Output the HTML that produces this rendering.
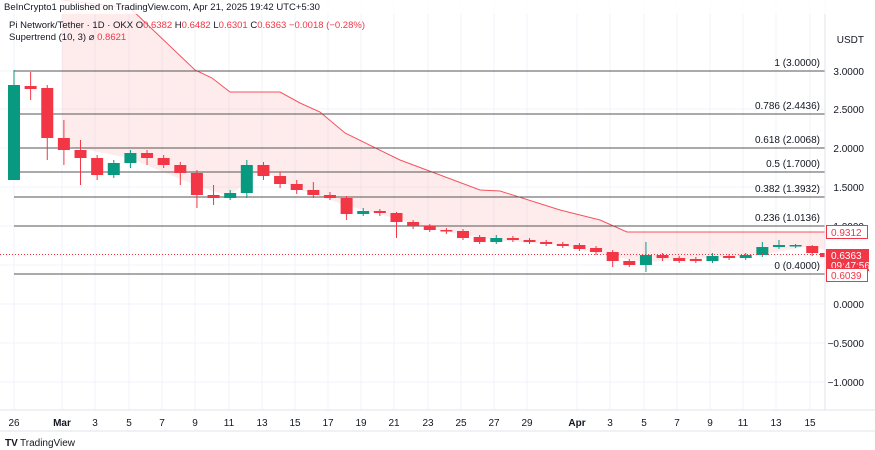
<!DOCTYPE html><html><head><meta charset="utf-8"><style>
body{margin:0;background:#fff;width:875px;height:450px;overflow:hidden;font-family:"Liberation Sans",sans-serif}
svg{display:block}
</style></head><body>
<svg id="s" width="875" height="450" xmlns="http://www.w3.org/2000/svg" font-family="Liberation Sans, sans-serif"></svg>
<script>
const s=document.getElementById('s');let h='';
const G='#089981',R='#f23645';
const dates=[[14,'26'],[62,'Mar'],[95,'3'],[129,'5'],[162,'7'],[195,'9'],[229,'11'],[262,'13'],[295,'15'],[328,'17'],[361,'19'],[394,'21'],[428,'23'],[461,'25'],[494,'27'],[527,'29'],[577,'Apr'],[610,'3'],[644,'5'],[677,'7'],[710,'9'],[743,'11'],[776,'13'],[810,'15']];
dates.forEach(d=>{h+=`<line x1="${d[0]}" y1="0" x2="${d[0]}" y2="410" stroke="#f0f3fa"/>`});
[71,109,148,187,226,265,304,343,382].forEach(y=>{h+=`<line x1="0" y1="${y}" x2="825" y2="${y}" stroke="#f0f3fa"/>`});
const st=[[62,0],[130,8],[195,70],[212,78],[230,92],[280,92],[300,103],[320,112],[345,133],[400,160],[440,175],[480,190],[500,191],[560,210],[600,220],[627,232],[825,232]];
const lo=[[825,250],[810,246],[760,255],[644,262],[610,256],[560,245],[494,240],[428,228],[394,218],[345,205],[295,188],[262,170],[229,196],[195,185],[129,158],[62,145]];
h+=`<polygon points="${st.map(p=>p.join(',')).join(' ')} ${lo.map(p=>p.join(',')).join(' ')}" fill="rgba(242,54,69,0.1)"/>`;
h+=`<polyline points="${st.map(p=>p.join(',')).join(' ')}" fill="none" stroke="#f7525f" stroke-width="1"/>`;
const fib=[[71,'1 (3.0000)'],[114,'0.786 (2.4436)'],[148,'0.618 (2.0068)'],[172,'0.5 (1.7000)'],[197,'0.382 (1.3932)'],[226,'0.236 (1.0136)'],[274,'0 (0.4000)']];
fib.forEach(f=>{h+=`<line x1="14" y1="${f[0]}" x2="825" y2="${f[0]}" stroke="#555" stroke-width="1"/><text x="820" y="${f[0]-5}" font-size="10" fill="#131722" text-anchor="end">${f[1]}</text>`});
const c=[[180,85,70,180],[86,89,72,100],[88,138,85,160],[138,150,120,165],[150,158,140,185],[158,175,155,180],[175,163,160,178],[163,153,150,168],[153,158,150,165],[158,165,155,168],[165,173,162,185],[173,195,170,208],[195,198,185,205],[198,193,190,200],[193,165,160,198],[165,176,162,180],[176,184,172,188],[184,190,180,194],[190,195,182,198],[195,198,192,200],[198,214,196,220],[214,211,208,216],[211,213,209,216],[213,222,212,238],[222,226,220,229],[226,230,224,232],[230,231,228,234],[231,238,229,240],[237,242,235,244],[242,238,235,244],[238,240,236,242],[240,242,238,244],[242,244,240,246],[244,246,242,248],[245,249,243,251],[248,252,246,255],[252,261,250,267],[261,265,259,267],[265,255,242,272],[255,258,253,261],[258,261,256,263],[259,261,257,263],[261,256,253,263],[256,258,254,260],[258,255,253,260],[255,247,242,257],[247,245,240,249],[246,245,244,248],[246,253,245,256]];
c.forEach((k,i)=>{const x=14+16.63*i;const col=k[1]<k[0]?G:R;const t=Math.min(k[0],k[1]),b=Math.max(k[0],k[1],t+1.5);
h+=`<line x1="${x}" y1="${k[2]}" x2="${x}" y2="${k[3]}" stroke="${col}"/><rect x="${x-6}" y="${t}" width="12" height="${b-t}" fill="${col}"/>`});
h+=`<rect x="820" y="253" width="5" height="4" fill="${R}"/>`;
h+=`<line x1="0" y1="254.5" x2="825" y2="254.5" stroke="${R}" stroke-dasharray="1,2"/>`;
h+=`<line x1="825" y1="0" x2="825" y2="410" stroke="#e0e3eb"/>`;
h+=`<text x="864" y="43" font-size="10" fill="#131722" text-anchor="end">USDT</text>`;
[['3.0000',71],['2.5000',109],['2.0000',148],['1.5000',187],['1.0000',226],['0.5000',265],['0.0000',304],['−0.5000',343],['−1.0000',382]].forEach(a=>{h+=`<text x="864" y="${a[1]+4}" font-size="10" fill="#131722" text-anchor="end">${a[0]}</text>`});
h+=`<rect x="826.5" y="225.5" width="41" height="13" fill="#fff" stroke="${R}"/><text x="831" y="236" font-size="10" fill="${R}">0.9312</text>`;
h+=`<rect x="826" y="249" width="43" height="22" fill="${R}"/><text x="831" y="259" font-size="10" fill="#fff">0.6363</text><text x="831" y="269" font-size="10" fill="#fff">09:47:56</text>`;
h+=`<rect x="826.5" y="268.5" width="41" height="13" fill="#fff" stroke="${R}"/><text x="831" y="279" font-size="10" fill="${R}">0.6039</text>`;
h+=`<line x1="0" y1="410" x2="875" y2="410" stroke="#e0e3eb"/>`;
dates.forEach(d=>{const b=(d[1]=='Mar'||d[1]=='Apr');h+=`<text x="${d[0]}" y="426" font-size="10" fill="#131722" text-anchor="middle" ${b?'font-weight="bold"':''}>${d[1]}</text>`});
h+=`<line x1="0" y1="431" x2="875" y2="431" stroke="#e0e3eb"/>`;
h+=`<text x="5" y="446" font-size="10" font-weight="bold" fill="#131722">TV</text><text x="20" y="446" font-size="10" fill="#131722">TradingView</text>`;
h+=`<rect x="0" y="0" width="875" height="14" fill="rgba(255,255,255,0.85)"/>`;
h+=`<text x="4" y="10" font-size="9.5" fill="#131722">BeInCrypto1 published on TradingView.com, Apr 21, 2025 19:42 UTC+5:30</text>`;
h+=`<text x="9" y="28" font-size="9.5" fill="#131722">Pi Network/Tether · 1D · OKX  O<tspan fill="${R}">0.6382</tspan> H<tspan fill="${R}">0.6482</tspan> L<tspan fill="${R}">0.6301</tspan> C<tspan fill="${R}">0.6363</tspan> <tspan fill="${R}">−0.0018 (−0.28%)</tspan></text>`;
h+=`<text x="9" y="40" font-size="9.5" fill="#131722">Supertrend (10, 3)  ⌀  <tspan fill="${R}">0.8621</tspan></text>`;
s.innerHTML=h;
</script></body></html>
